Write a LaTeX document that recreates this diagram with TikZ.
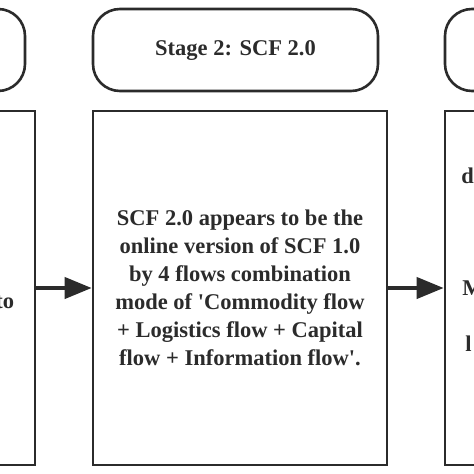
\documentclass[tikz,border=0pt]{standalone}
\usepackage{fontspec}
\setmainfont{Liberation Serif}
\usetikzlibrary{arrows.meta,positioning}
\definecolor{ink}{HTML}{2B2B2B}

\begin{document}
\begin{tikzpicture}[x=1pt,y=-1pt,line width=2.6pt,draw=ink,text=ink]
\tikzstyle{big}=[font=\fontsize{22.5}{28}\selectfont\bfseries]
\tikzstyle{stage}=[big, draw, rounded corners=27pt, minimum width=285pt, minimum height=82pt]
\tikzstyle{body}=[big, draw, minimum width=294pt, minimum height=354pt, align=center]
\tikzstyle{cut}=[big, inner sep=0pt]
\useasboundingbox (0,0) rectangle (474,474);
\clip (0,0) rectangle (474,474);
% stage headers
\node[stage] (s1) at (-117.5,50) {};
\node[stage] (s2) at (235.5,50) {Stage 2: SCF 2.0};
\node[stage] (s3) at (587.5,50) {};
% stage contents
\node[body] (b1) at (-112,288) {};
\node[body] (b2) at (240,288) {SCF 2.0 appears to be the\\online version of SCF 1.0\\by 4 flows combination\\mode of \textquotesingle Commodity flow\\+ Logistics flow + Capital\\flow + Information flow\textquotesingle.};
\node[body] (b3) at (592,288) {};
% text of the outer columns, cut by the frame
\node[cut, anchor=base east] (t1) at (15.5,308) {to};
\node[cut, anchor=base west] (t3a) at (460,183) {d};
\node[cut, anchor=base west] (t3b) at (461,295) {M};
\node[cut, anchor=base west] (t3c) at (464,351) {l};
\foreach \current/\next in {b1/b2,b2/b3}
    \draw[-{Triangle[length=27pt,width=21pt]}, line width=4pt] (\current) -- (\next);
\end{tikzpicture}
\end{document}
